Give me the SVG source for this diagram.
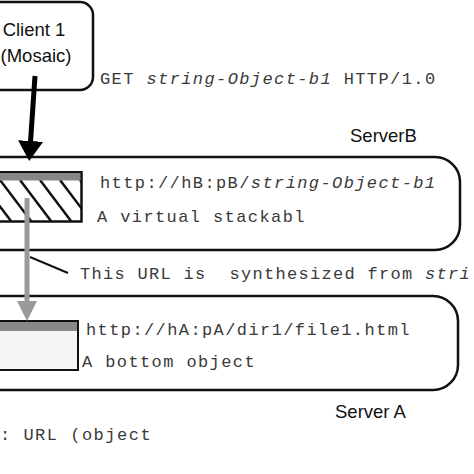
<svg xmlns="http://www.w3.org/2000/svg" width="474" height="474" viewBox="0 0 474 474">
<style>
.lbl{font-family:"Liberation Sans",Arial,sans-serif;font-size:18.5px;fill:#111}
.mono{font-family:"Liberation Mono","Courier New",monospace;font-size:17px;fill:#3a3a3a;letter-spacing:1.4px}
.it{font-style:italic}
.box{fill:#fff;stroke:#111;stroke-width:2.5}
.obj{stroke:#111;stroke-width:2}
.band{fill:#888}
</style>
<defs>
<clipPath id="hclip"><rect x="-5" y="180" width="86" height="41"/></clipPath>
<marker id="ahB" markerWidth="4" markerHeight="5" refX="0.2" refY="2.5" orient="auto" markerUnits="strokeWidth"><path d="M0,0 L4,2.5 L0,5 Z" fill="#000"/></marker>
<marker id="ahG" markerWidth="4" markerHeight="4" refX="0.2" refY="2" orient="auto" markerUnits="strokeWidth"><path d="M0,0 L4,2 L0,4 Z" fill="#999"/></marker>
</defs>
<rect width="474" height="474" fill="#fff"/>

<g id="serverB">
<path class="box" d="M-5,157 H435 A25,25 0 0 1 460,182 V225 A25,25 0 0 1 435,250 H-5"/>
<text class="lbl" x="350" y="142">ServerB</text>
<text class="mono" x="100" y="188">http://hB:pB/<tspan class="it">string-Object-b1</tspan></text>
<text class="mono" x="97" y="222">A virtual stackabl</text>
</g>

<g id="serverA">
<path class="box" d="M-5,296 H433 A25,25 0 0 1 458,321 V365 A25,25 0 0 1 433,390 H-5"/>
<text class="lbl" x="335" y="418">Server A</text>
<text class="mono" x="86" y="335">http://hA:pA/dir1/file1.html</text>
<text class="mono" x="82" y="367">A bottom object</text>
</g>

<g id="virtualObject">
<rect x="-5" y="172" width="86.5" height="49.5" fill="#fff" class="obj"/>
<g clip-path="url(#hclip)" stroke="#111" stroke-width="2.5">
<line x1="-40" y1="180" x2="-9" y2="221"/>
<line x1="-20" y1="180" x2="11" y2="221"/>
<line x1="0" y1="180" x2="31" y2="221"/>
<line x1="20" y1="180" x2="51" y2="221"/>
<line x1="40" y1="180" x2="71" y2="221"/>
<line x1="60" y1="180" x2="91" y2="221"/>
<line x1="80" y1="180" x2="111" y2="221"/>
</g>
<rect class="band" x="-5" y="172" width="86.5" height="8.5"/>
<rect x="-5" y="172" width="86.5" height="49.5" fill="none" class="obj"/>
</g>

<g id="bottomObject">
<rect x="-5" y="321" width="83" height="49" fill="#f5f5f5" class="obj"/>
<rect class="band" x="-5" y="321" width="83" height="10"/>
<rect x="-5" y="321" width="83" height="49" fill="none" class="obj"/>
</g>

<g id="client1">
<rect class="box" x="-20" y="2" width="113" height="88" rx="13"/>
<text class="lbl" x="34" y="36" text-anchor="middle">Client 1</text>
<text class="lbl" x="36" y="62" text-anchor="middle">(Mosaic)</text>
</g>

<g id="connectors">
<line x1="35" y1="76" x2="30.5" y2="142" stroke="#000" stroke-width="5" marker-end="url(#ahB)"/>
<line x1="27" y1="198" x2="27" y2="302" stroke="#999" stroke-width="5" marker-end="url(#ahG)"/>
<line x1="30" y1="257" x2="68" y2="273" stroke="#111" stroke-width="2"/>
</g>

<g id="texts">
<text class="mono" x="100" y="84">GET <tspan class="it">string-Object-b1</tspan> HTTP/1.0</text>
<text class="mono" x="80" y="279" xml:space="preserve" style="letter-spacing:1.3px;white-space:pre">This URL is  synthesized from <tspan class="it">stri</tspan></text>
<text class="mono" x="0" y="440" style="letter-spacing:1.5px">: URL (object</text>
</g>
</svg>
